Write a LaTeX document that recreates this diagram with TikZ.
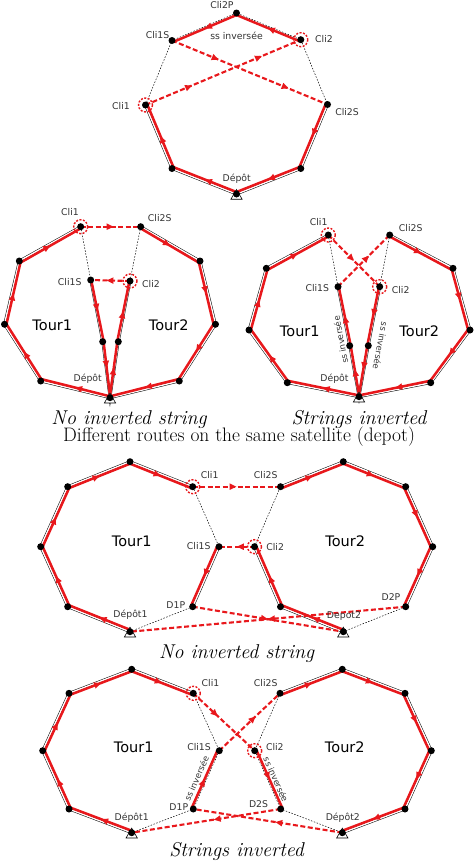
\documentclass[tikz,border=0pt]{standalone}
\usepackage{fontspec}
\newfontfamily\labfont{DejaVu Sans}
\usetikzlibrary{calc,arrows.meta,decorations.markings,shapes.geometric}
\definecolor{rt}{RGB}{232,24,28}
\tikzset{
 edge/.style={draw=black, line width=0.5pt, double=white, double distance=1.6pt},
 tdash/.style={draw=black, line width=0.5pt, dash pattern=on 1.5pt off 1.5pt},
 route/.style={draw=rt, line width=2.5pt, line cap=round},
 rdash/.style={draw=rt, line width=2.1pt, dash pattern=on 5pt off 2.5pt},
 marrow/.style={postaction={decorate, decoration={markings, mark=at position #1 with {\arrow[rt]{Triangle[length=7pt,width=6pt]}}}}},
 dot/.style={circle, fill=black, inner sep=0pt, minimum size=7pt},
 dep/.style={regular polygon, regular polygon sides=3, draw=black, line width=0.6pt, fill=white, inner sep=0pt, minimum size=13pt},
 lab/.style={font=\labfont\fontsize{9.3}{11}\selectfont, text=black!80, inner sep=0pt},
 rlab/.style={font=\labfont\fontsize{8.5}{10}\selectfont, text=black!80, inner sep=0pt},
 tour/.style={font=\labfont\fontsize{14.5}{16}\selectfont, inner sep=0pt},
 captxt/.style={font=\fontsize{20}{24}\selectfont\itshape, inner sep=0pt, anchor=base},
 ring/.style={draw=rt, line width=1.4pt, dash pattern=on 2pt off 1.5pt},
}
\newcommand\re[4][0.5]{\draw[route, marrow=#1] ($(#2)!2pt!(#4)$) -- ($(#3)!2pt!(#4)$);}
\begin{document}
\begin{tikzpicture}[x=1pt,y=-1pt]
\useasboundingbox (0,0) rectangle (474,863);
% ---------------- panel A ----------------
\coordinate (AP) at (236.5,13);
\coordinate (A2) at (300.8,39.7);
\coordinate (A2S) at (327.5,104.5);
\coordinate (ABR) at (300.8,168.5);
\coordinate (AD) at (236.5,194);
\coordinate (ABL) at (172,168.5);
\coordinate (A1) at (145.5,105);
\coordinate (A1S) at (172,40.5);
\coordinate (Ac) at (236.5,104);
\draw[edge] (AD)--(ABL)--(A1);
\draw[edge] (A2S)--(ABR)--(AD);
\draw[tdash] (A1)--(A1S)--(AP)--(A2)--(A2S);
\re{AD}{ABL}{Ac}\re{ABL}{A1}{Ac}\re{A2S}{ABR}{Ac}\re{ABR}{AD}{Ac}
\re{A2}{AP}{Ac}\re{AP}{A1S}{Ac}
\draw[rdash, marrow=0.3, marrow=0.75] (A1)--(A2);
\draw[rdash, marrow=0.3, marrow=0.75] (A1S)--(A2S);
% ---------------- panel B ----------------
\coordinate (B1) at (80.7,226.7);
\coordinate (B2S) at (140.7,226.7);
\coordinate (BTL) at (19.3,261);
\coordinate (BLL) at (4.5,324.3);
\coordinate (BBL) at (40.7,381);
\coordinate (BD) at (110,397.7);
\coordinate (B1S) at (90.7,280);
\coordinate (Bn1) at (102.7,341.7);
\coordinate (Bn2) at (118.3,341.7);
\coordinate (B2) at (130,281);
\coordinate (BTR) at (200,261);
\coordinate (BRR) at (215.5,324.3);
\coordinate (BBR) at (179.3,381);
\coordinate (Bc1) at (60,320);
\coordinate (Bc2) at (160,320);
\coordinate (Bcm) at (110,320);
\draw[edge] (BD)--(BBL)--(BLL)--(BTL)--(B1);
\draw[edge] (B1S)--(Bn1)--(BD)--(Bn2)--(B2);
\draw[edge] (B2S)--(BTR)--(BRR)--(BBR)--(BD);
\draw[tdash] (B1)--(B1S);
\draw[tdash] (B2S)--(B2);
\re{BD}{BBL}{Bc1}\re{BBL}{BLL}{Bc1}\re{BLL}{BTL}{Bc1}\re{BTL}{B1}{Bc1}
\re{B2S}{BTR}{Bc2}\re{BTR}{BRR}{Bc2}\re{BRR}{BBR}{Bc2}\re{BBR}{BD}{Bc2}
\re{BD}{Bn2}{Bcm}\re{Bn2}{B2}{Bcm}\re{B1S}{Bn1}{Bcm}\re{Bn1}{BD}{Bcm}
\draw[rdash, marrow=0.55] (B1)--(B2S);
\draw[rdash, marrow=0.6] (B2)--(B1S);
% ---------------- panel C ----------------
\coordinate (C1) at (328.3,235);
\coordinate (C2S) at (389.7,235);
\coordinate (CTL) at (266.3,268.3);
\coordinate (CLL) at (249,330);
\coordinate (CBL) at (287.3,382.7);
\coordinate (CD) at (359,396.7);
\coordinate (C1S) at (338,286.7);
\coordinate (Cn1) at (349.7,345.7);
\coordinate (Cn2) at (368.3,345.7);
\coordinate (C2) at (379.7,286.7);
\coordinate (CTR) at (453,268.3);
\coordinate (CRR) at (470,330);
\coordinate (CBR) at (430.7,382.7);
\coordinate (Cc1) at (300,320);
\coordinate (Cc2) at (418,320);
\coordinate (Ccm) at (359,320);
\draw[edge] (CD)--(CBL)--(CLL)--(CTL)--(C1);
\draw[edge] (C1S)--(Cn1)--(CD)--(Cn2)--(C2);
\draw[edge] (C2S)--(CTR)--(CRR)--(CBR)--(CD);
\draw[tdash] (C1)--(C1S);
\draw[tdash] (C2S)--(C2);
\re{CD}{CBL}{Cc1}\re{CBL}{CLL}{Cc1}\re{CLL}{CTL}{Cc1}\re{CTL}{C1}{Cc1}
\re{C2S}{CTR}{Cc2}\re{CTR}{CRR}{Cc2}\re{CRR}{CBR}{Cc2}\re{CBR}{CD}{Cc2}
\re{C2}{Cn2}{Ccm}\re{Cn2}{CD}{Ccm}\re{CD}{Cn1}{Ccm}\re{Cn1}{C1S}{Ccm}
\draw[rdash, marrow=0.5] (C1)--(C2);
\draw[rdash, marrow=0.6] (C1S)--(C2S);
% ---------------- panel D ----------------
\coordinate (DT) at (130,461.7);
\coordinate (DTL) at (67.7,486.7);
\coordinate (DLL) at (40.7,546.7);
\coordinate (DBL) at (67.7,606.7);
\coordinate (DD1) at (130,631.7);
\coordinate (D1P) at (192.7,606.7);
\coordinate (D1S) at (219,546.7);
\coordinate (D1) at (192.7,486.7);
\coordinate (Dc1) at (130,546.7);
\coordinate (DT2) at (343.3,461.7);
\coordinate (D2S) at (280.5,486.7);
\coordinate (D2) at (254.5,546.7);
\coordinate (DBL2) at (280.5,606.7);
\coordinate (DD2) at (343.3,631.7);
\coordinate (D2P) at (405.7,606.7);
\coordinate (DRR) at (432.7,546.7);
\coordinate (DTR) at (405.7,486.7);
\coordinate (Dc2) at (343.3,546.7);
\draw[edge] (DD1)--(DBL)--(DLL)--(DTL)--(DT)--(D1);
\draw[edge] (D1S)--(D1P);
\draw[edge] (DD2)--(DBL2)--(D2);
\draw[edge] (D2S)--(DT2)--(DTR)--(DRR)--(D2P);
\draw[tdash] (D1)--(D1S);
\draw[tdash] (D1P)--(DD1);
\draw[tdash] (D2)--(D2S);
\draw[tdash] (D2P)--(DD2);
\re{DD1}{DBL}{Dc1}\re{DBL}{DLL}{Dc1}\re{DLL}{DTL}{Dc1}\re{DTL}{DT}{Dc1}\re{DT}{D1}{Dc1}
\re{D1S}{D1P}{Dc1}
\re{D2S}{DT2}{Dc2}\re{DT2}{DTR}{Dc2}\re{DTR}{DRR}{Dc2}\re{DRR}{D2P}{Dc2}
\re{DD2}{DBL2}{Dc2}\re{DBL2}{D2}{Dc2}
\draw[rdash, marrow=0.5] (D1)--(D2S);
\draw[rdash, marrow=0.5] (D2)--(D1S);
\draw[rdash, marrow=0.5] (D1P)--(DD2);
\draw[rdash, marrow=0.5] (D2P)--(DD1);
% ---------------- panel E ----------------
\coordinate (ET) at (131.7,669.3);
\coordinate (ETL) at (69,693.3);
\coordinate (ELL) at (42.7,750.7);
\coordinate (EBL) at (69,809);
\coordinate (ED1) at (131.7,832.7);
\coordinate (E1P) at (193.3,809);
\coordinate (E1S) at (219.3,750.7);
\coordinate (E1) at (193.3,693.3);
\coordinate (Ec1) at (131.7,751);
\coordinate (ET2) at (342.3,669.3);
\coordinate (E2S) at (280,693.3);
\coordinate (E2) at (254.7,750.7);
\coordinate (E2D) at (280.7,809);
\coordinate (ED2) at (342.3,832.7);
\coordinate (EBR) at (405,809);
\coordinate (ERR) at (431.3,750.7);
\coordinate (ETR) at (405,693.3);
\coordinate (Ec2) at (342.3,751);
\draw[edge] (ED1)--(EBL)--(ELL)--(ETL)--(ET)--(E1);
\draw[edge] (E2S)--(ET2)--(ETR)--(ERR)--(EBR)--(ED2);
\draw[tdash] (E1)--(E1S)--(E1P)--(ED1);
\draw[tdash] (E2S)--(E2)--(E2D)--(ED2);
\re{ED1}{EBL}{Ec1}\re{EBL}{ELL}{Ec1}\re{ELL}{ETL}{Ec1}\re{ETL}{ET}{Ec1}\re{ET}{E1}{Ec1}
\re{E1P}{E1S}{Ec1}\re{E2}{E2D}{Ec2}
\re{E2S}{ET2}{Ec2}\re{ET2}{ETR}{Ec2}\re{ETR}{ERR}{Ec2}\re{ERR}{EBR}{Ec2}\re{EBR}{ED2}{Ec2}
\draw[rdash, marrow=0.4] (E1)--(E2);
\draw[rdash, marrow=0.6] (E1S)--(E2S);
\draw[rdash, marrow=0.45] (E2D)--(ED1);
\draw[rdash, marrow=0.45] (ED2)--(E1P);
% ---------------- depots ----------------
\foreach \n in {AD,BD,CD,DD1,DD2,ED1,ED2}{\node[dep] (t\n) at ($(\n)+(0,2)$) {};}
% ---------------- dots ----------------
\foreach \n in {AP,A2,A2S,ABR,AD,ABL,A1,A1S,
 B1,B2S,BTL,BLL,BBL,BD,B1S,Bn1,Bn2,B2,BTR,BRR,BBR,
 C1,C2S,CTL,CLL,CBL,CD,C1S,Cn1,Cn2,C2,CTR,CRR,CBR,
 DT,DTL,DLL,DBL,DD1,D1P,D1S,D1,DT2,D2S,D2,DBL2,DD2,D2P,DRR,DTR,
 ET,ETL,ELL,EBL,ED1,E1P,E1S,E1,ET2,E2S,E2,E2D,ED2,EBR,ERR,ETR}
 {\node[dot] (d\n) at (\n) {};}
% ---------------- rings ----------------
\foreach \n in {A1,A2,B1,B2,C1,C2,D1,D2,E1,E2}{\draw[ring] (\n) circle (7);}
% ---------------- labels ----------------
\node[lab] (lAP) at (222,5.5) {Cli2P};
\node[lab] (lA1S) at (157.5,35) {Cli1S};
\node[lab] (lAss) at (236.5,36) {ss inversée};
\node[lab] (lA2) at (324,39.3) {Cli2};
\node[lab] (lA1) at (121,106) {Cli1};
\node[lab] (lA2S) at (347,111.7) {Cli2S};
\node[lab] (lAD) at (236.7,179) {Dépôt};
\node[lab] (lB1) at (70,212.3) {Cli1};
\node[lab] (lB2S) at (159.7,218.3) {Cli2S};
\node[lab] (lB1S) at (69.7,282.3) {Cli1S};
\node[lab] (lB2) at (151,284.3) {Cli2};
\node[tour] (lBt1) at (52.3,325) {Tour1};
\node[tour] (lBt2) at (168.7,325) {Tour2};
\node[lab] (lBD) at (87.7,378.3) {Dépôt};
\node[lab] (lC1) at (318.7,221.7) {Cli1};
\node[lab] (lC2S) at (410.7,227.7) {Cli2S};
\node[lab] (lC1S) at (317.3,288.3) {Cli1S};
\node[lab] (lC2) at (400.7,290) {Cli2};
\node[tour] (lCt1) at (299.8,331) {Tour1};
\node[tour] (lCt2) at (419.3,331) {Tour2};
\node[lab] (lCD) at (334.5,379) {Dépôt};
\node[rlab, rotate=100.8] (lCss1) at (340.5,340) {ss inversée};
\node[rlab, rotate=-100.7] (lCss2) at (380.5,346) {ss inversée};
\node[lab] (lD1) at (209.7,475) {Cli1};
\node[lab] (lD1S) at (198.7,546) {Cli1S};
\node[lab] (lD1P) at (175.8,605) {D1P};
\node[lab] (lDD1) at (130.5,615) {Dépôt1};
\node[tour] (lDt1) at (131.7,541.7) {Tour1};
\node[lab] (lD2S) at (265.7,475) {Cli2S};
\node[lab] (lD2) at (275.2,546.7) {Cli2};
\node[tour] (lDt2) at (345.2,541.7) {Tour2};
\node[lab] (lD2P) at (391,596.7) {D2P};
\node[lab] (lDD2) at (344,615.7) {Depot2};
\node[lab] (lE1) at (210.5,682.7) {Cli1};
\node[lab] (lE1S) at (199,747.3) {Cli1S};
\node[lab] (lE1P) at (178.8,806.7) {D1P};
\node[lab] (lED1) at (131.7,817.3) {Dépôt1};
\node[tour] (lEt1) at (133.7,747.3) {Tour1};
\node[lab] (lE2S) at (265.7,682.7) {Cli2S};
\node[lab] (lE2) at (274.8,747.3) {Cli2};
\node[lab] (lE2D) at (258.5,804) {D2S};
\node[lab] (lED2) at (342.8,817.3) {Dépôt2};
\node[tour] (lEt2) at (344.8,747.3) {Tour2};
\node[rlab, rotate=66] (lEss1) at (196.5,778.5) {ss inversée};
\node[rlab, rotate=-66] (lEss2) at (276,779.5) {ss inversée};
% ---------------- captions ----------------
\node[captxt] (cap1) at (129,424.3) {No inverted string};
\node[captxt] (cap2) at (359,424.3) {Strings inverted};
\node[captxt, font=\fontsize{19.5}{23}\selectfont\upshape] (cap3) at (239,441.7) {Different routes on the same satellite (depot)};
\node[captxt] (cap4) at (236.7,658.3) {No inverted string};
\node[captxt] (cap5) at (236.7,856.7) {Strings inverted};
\end{tikzpicture}
\end{document}
